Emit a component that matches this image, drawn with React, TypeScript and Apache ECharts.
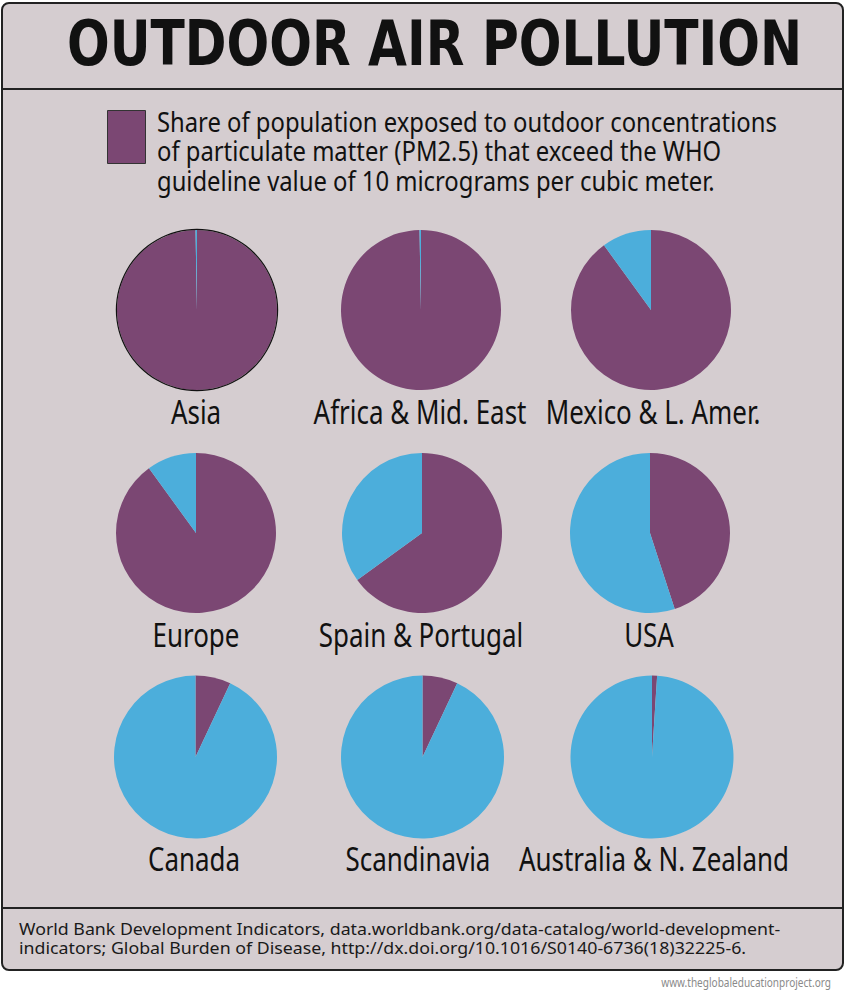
import React, { useEffect, useRef } from "react";
import * as echarts from "echarts";

// ---------- data ----------
const regions = [
  "Asia",
  "Africa & Mid. East",
  "Mexico & L. Amer.",
  "Europe",
  "Spain & Portugal",
  "USA",
  "Canada",
  "Scandinavia",
  "Australia & N. Zealand",
];
// % of population exposed to PM2.5 above WHO guideline
const exceedShare = [99.7, 99.7, 90, 90, 65, 45, 7, 7, 1];

const titleText = "OUTDOOR AIR POLLUTION";
const legendLines = [
  "Share of population exposed to outdoor concentrations",
  "of particulate matter (PM2.5) that exceed the WHO",
  "guideline value of 10 micrograms per cubic meter.",
];
const sourceLines = [
  "World Bank Development Indicators, data.worldbank.org/data-catalog/world-development-",
  "indicators; Global Burden of Disease, http://dx.doi.org/10.1016/S0140-6736(18)32225-6.",
];
const websiteText = "www.theglobaleducationproject.org";

// ---------- layout ----------
const pieCenters: [number, number][] = [
  [197, 310], [421, 310], [651, 310],
  [196, 533], [422, 533], [650, 533],
  [195.5, 757], [422.5, 757], [652, 757],
];
const pieRadii = [80, 80, 80, 80, 80, 80, 81.5, 81.5, 81.5];
const labelPos: [number, number][] = [
  [196, 411], [420, 411], [653, 411],
  [196, 634], [421, 634], [649, 634],
  [194, 858], [418, 858], [654, 858],
];

const PURPLE = "#7b4773";
const BLUE = "#4caedb";
const BG = "#d5cdd0";
const SANS = '"Noto Sans", "Open Sans", sans-serif';
const TITLE_FONT = '"DejaVu Sans Condensed", "DejaVu Sans", sans-serif';

function measure(text: string, font: string): number {
  const c = document.createElement("canvas").getContext("2d");
  if (!c) return text.length * 10;
  c.font = font;
  return c.measureText(text).width;
}

function textEl(
  text: string,
  x: number,
  y: number,
  fontSize: number,
  family: string,
  scaleX: number,
  align: string,
  opts: any = {}
) {
  return {
    type: "text",
    x,
    y,
    scaleX,
    z: 10,
    silent: true,
    style: {
      text,
      fontSize,
      fontFamily: family,
      fontWeight: opts.fontWeight || "normal",
      fill: opts.fill || "#111",
      textAlign: align,
      textVerticalAlign: "middle",
      align,
      verticalAlign: "middle",
    },
  };
}

export default function App() {
  const ref = useRef<HTMLDivElement>(null);

  useEffect(() => {
    document.body.style.margin = "0";
    if (!ref.current) return;
    const chart = echarts.init(ref.current, undefined, { renderer: "svg" });

    const titleSize = 63;
    const titleScale = 735 / measure(titleText, `bold ${titleSize}px ${TITLE_FONT}`);
    const legendSize = 27;
    const legendScale = 620 / measure(legendLines[0], `${legendSize}px ${SANS}`);
    const labelSize = 33;
    const labelScale = 213 / measure(regions[1], `${labelSize}px ${SANS}`);
    const srcSize = 17;
    const srcScale = 762 / measure(sourceLines[0], `${srcSize}px ${SANS}`);
    const webSize = 13;
    const webScale = 170 / measure(websiteText, `${webSize}px ${SANS}`);

    const series: any[] = [];
    regions.forEach((name, i) => {
      if (i === 0) {
        series.push({
          type: "pie",
          name: name + " outline",
          center: pieCenters[i],
          radius: [pieRadii[i], pieRadii[i] + 1.2],
          silent: true,
          label: { show: false },
          labelLine: { show: false },
          itemStyle: { color: "#111", borderWidth: 0 },
          data: [{ value: 1, name: "outline" }],
          z: 3,
        });
      }
      series.push({
        type: "pie",
        name,
        center: pieCenters[i],
        radius: [0, pieRadii[i]],
        startAngle: 90,
        clockwise: true,
        silent: true,
        label: { show: false },
        labelLine: { show: false },
        emphasis: { disabled: true },
        itemStyle: { borderWidth: 0 },
        data: [
          { value: exceedShare[i], name: "Exceeds WHO guideline", itemStyle: { color: PURPLE } },
          { value: 100 - exceedShare[i], name: "Below guideline", itemStyle: { color: BLUE } },
        ],
        z: 2,
      });
    });

    const graphics: any[] = [
      {
        type: "rect",
        z: -5,
        silent: true,
        shape: { x: 2, y: 3, width: 841, height: 967, r: 7 },
        style: { fill: BG, stroke: "#222", lineWidth: 2 },
      },
      {
        type: "line",
        z: 5,
        silent: true,
        shape: { x1: 2, y1: 89, x2: 843, y2: 89 },
        style: { stroke: "#222", lineWidth: 2 },
      },
      {
        type: "line",
        z: 5,
        silent: true,
        shape: { x1: 2, y1: 908, x2: 843, y2: 908 },
        style: { stroke: "#222", lineWidth: 2 },
      },
      {
        type: "rect",
        z: 5,
        silent: true,
        shape: { x: 107.5, y: 110.5, width: 38, height: 53 },
        style: { fill: PURPLE, stroke: "#333", lineWidth: 1 },
      },
      textEl(titleText, 434.5, 43, titleSize, TITLE_FONT, titleScale, "center", {
        fontWeight: "bold",
      }),
    ];
    legendLines.forEach((t, i) => {
      graphics.push(textEl(t, 157, 121 + i * 29.5, legendSize, SANS, legendScale, "left"));
    });
    regions.forEach((t, i) => {
      graphics.push(textEl(t, labelPos[i][0], labelPos[i][1], labelSize, SANS, labelScale, "center"));
    });
    sourceLines.forEach((t, i) => {
      graphics.push(textEl(t, 19, 928 + i * 19, srcSize, SANS, srcScale, "left", { fill: "#1a1a1a" }));
    });
    graphics.push(
      textEl(websiteText, 831, 982, webSize, SANS, webScale, "right", { fill: "#8a8a8a" })
    );

    chart.setOption({
      animation: false,
      backgroundColor: "#ffffff",
      series,
      graphic: { elements: graphics },
    });

    return () => chart.dispose();
  }, []);

  return <div ref={ref} style={{ width: 846, height: 991 }} />;
}
